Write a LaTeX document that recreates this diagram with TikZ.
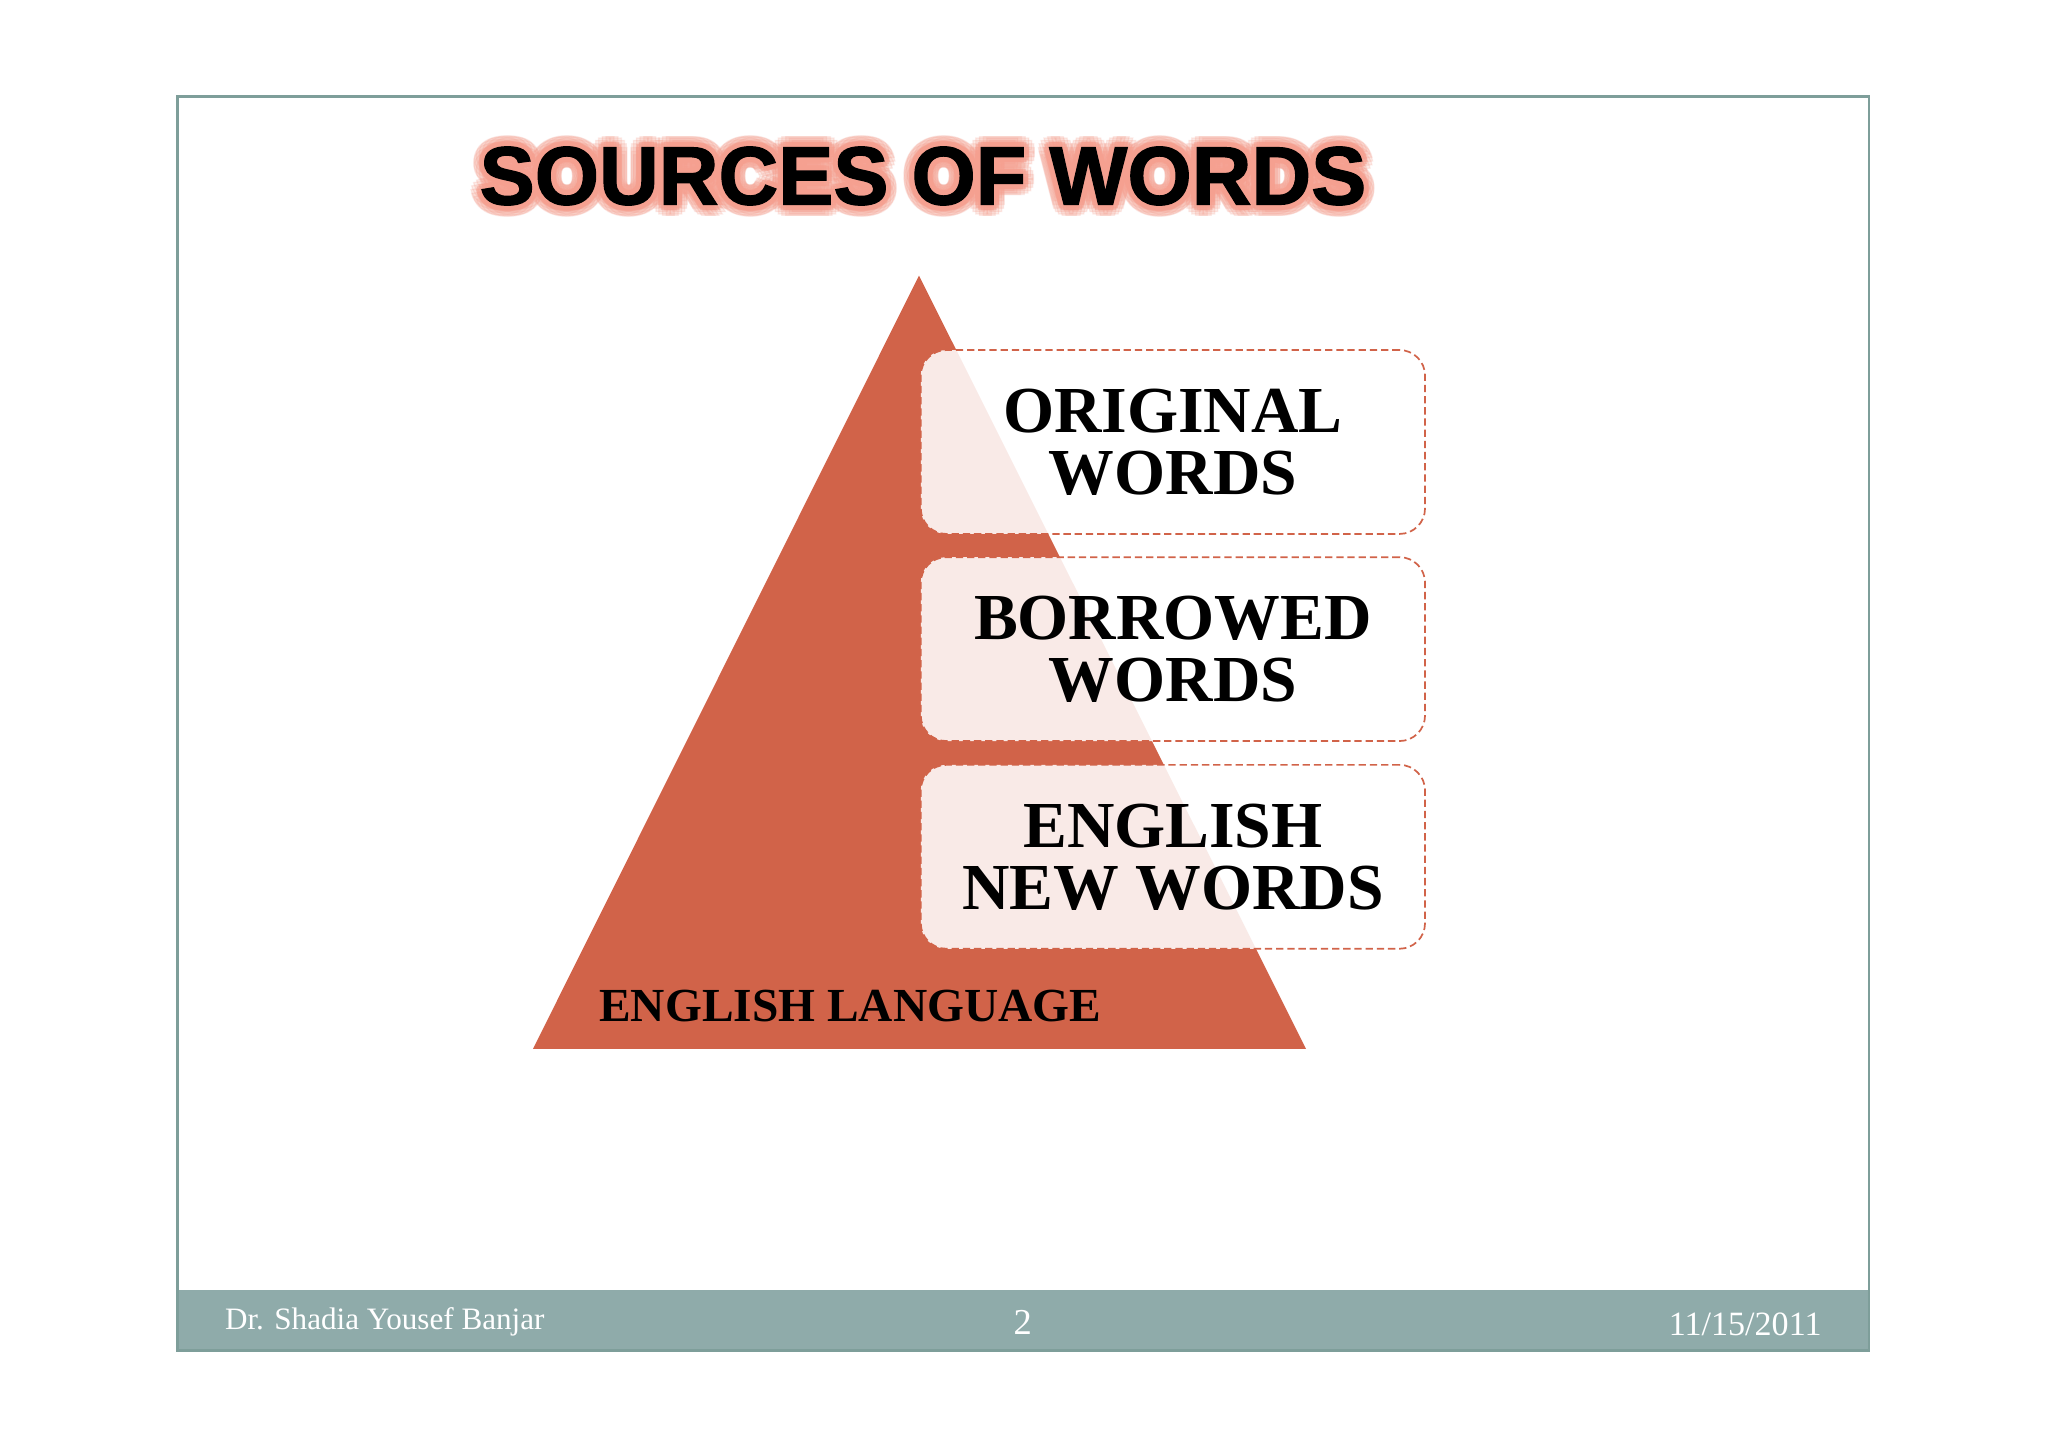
\documentclass[tikz,border=0pt]{standalone}
\usepackage{fontspec}
\setmainfont{Liberation Serif}
\newfontfamily\titlefont[FakeBold=1.5]{Liberation Sans Bold}
\usetikzlibrary{calc}
\definecolor{tri}{HTML}{D16349}
\definecolor{foot}{HTML}{8FABAA}
\definecolor{slideframe}{HTML}{7E9E9A}
\definecolor{glow}{HTML}{F5A090}
\begin{document}
\begin{tikzpicture}[x=0.4111pt,y=-0.4111pt,
  wordbox/.style={draw=tri, dash pattern=on 3pt off 1.6pt, line width=0.7pt,
    rounded corners=10.5pt, fill=white, fill opacity=0.87, text opacity=1,
    minimum width=207.3pt, minimum height=75.6pt, align=center, inner sep=0pt,
    font=\fontsize{27}{25.5}\selectfont\bfseries},
  titletext/.style={font=\titlefont\fontsize{34}{36}\selectfont, inner sep=0pt},
  foottext/.style={text=white, inner sep=0pt, font=\fontsize{12.8}{14}\selectfont}]
\useasboundingbox (0,0) rectangle (2048,1447);
\fill[white] (0,0) rectangle (2048,1447);
% slide frame and footer
\fill[foot] (177.6,1290.4) rectangle (1869,1350.5);
\draw[slideframe, line width=1.1pt] (177.6,96.6) rectangle (1869,1350.5);
% title with glow
\coordinate (tc) at (923,176);
\foreach \a in {0,20,...,340} {
  \node[titletext, text=glow, text opacity=0.2] at ($(tc)+(\a:11)$) {SOURCES OF WORDS};
}
\foreach \a in {0,30,...,330} {
  \node[titletext, text=glow, text opacity=0.45] at ($(tc)+(\a:5.5)$) {SOURCES OF WORDS};
}
\node[titletext, text=black] (title) at (tc) {SOURCES OF WORDS};
% pyramid
\coordinate (apex) at (919,275.6);
\coordinate (bl) at (533,1048.8);
\coordinate (br) at (1306,1048.8);
\fill[tri] (apex) -- (bl) -- (br) -- cycle;
\node[font=\fontsize{19.5}{22}\selectfont\bfseries, inner sep=0pt] (lang) at (850.3,1005.7) {ENGLISH LANGUAGE};
% boxes
\node[wordbox] (orig) at (1172.9,442) {ORIGINAL\\WORDS};
\node[wordbox] (borr) at (1172.9,649.1) {BORROWED\\WORDS};
\node[wordbox] (neww) at (1172.9,856.8) {ENGLISH\\NEW WORDS};
% footer texts
\node[foottext, anchor=west] (author) at (224.6,1322) {Dr. Shadia Yousef Banjar};
\node[foottext, font=\fontsize{15}{16}\selectfont] (page) at (1022.7,1322) {2};
\node[foottext, anchor=east, font=\fontsize{14}{16}\selectfont] (date) at (1822,1324) {11/15/2011};
\end{tikzpicture}
\end{document}
